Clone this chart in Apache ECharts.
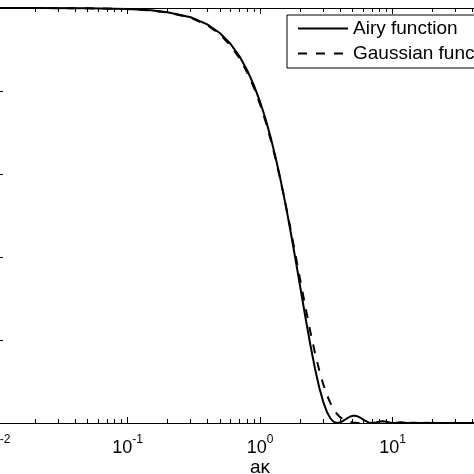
<!DOCTYPE html>
<html>
<head>
<meta charset="utf-8">
<script src="https://cdn.jsdelivr.net/npm/echarts@6/dist/echarts.min.js"></script>
<style>
html,body{margin:0;padding:0;background:#fff;}
#c{width:474px;height:474px;}
</style>
</head>
<body>
<div id="c"></div>
<script>
// a*kappa sample positions
var akappa = [0.01,0.02,0.05,0.1,0.15,0.2,0.3,0.4,0.5,0.6,0.7,0.8,0.9,1.0,1.1,1.2,1.3,1.4,1.5,1.6,1.7,1.8,1.9,2.0,2.2,2.4,2.6,2.8,3.0,3.2,3.4,3.6,3.8,4.0,4.2,4.4,4.6,4.8,5.0,5.2,5.4,5.6,5.8,6.0,6.2,6.4,6.6,6.8,7.0,7.5,8.0,8.5,9.0,9.5,10,10.5,11,11.5,12,12.5,13,13.5,14,14.5,15,16,17,18,20,25,30,40,50,70,100];
var airyValues = [1.0000,1.0000,0.9994,0.9975,0.9944,0.9900,0.9777,0.9607,0.9391,0.9133,0.8836,0.8501,0.8136,0.7746,0.7331,0.6897,0.6449,0.5993,0.5533,0.5075,0.4621,0.4175,0.3743,0.3326,0.2555,0.1879,0.1312,0.0856,0.0511,0.0267,0.0111,0.0028,0.0001,0.0011,0.0044,0.0085,0.0125,0.0155,0.0172,0.0174,0.0164,0.0143,0.0115,0.0085,0.0056,0.0032,0.0014,0.0004,0.0000,0.0013,0.0034,0.0041,0.0030,0.0012,0.0001,0.0002,0.0010,0.0016,0.0014,0.0007,0.0001,0.0000,0.0004,0.0007,0.0007,0.0001,0.0001,0.0004,0.0000,0.0000,0.0000,0.0000,0.0000,0.0000,0.0000];
var gaussValues = [1.0000,0.9999,0.9993,0.9974,0.9941,0.9895,0.9766,0.9588,0.9363,0.9096,0.8790,0.8450,0.8080,0.7686,0.7273,0.6846,0.6410,0.5970,0.5531,0.5098,0.4674,0.4263,0.3867,0.3490,0.2798,0.2196,0.1688,0.1270,0.0936,0.0676,0.0477,0.0330,0.0224,0.0148,0.0096,0.0061,0.0038,0.0023,0.0014,0.0008,0.0005,0.0003,0.0001,0.0001,0.0000,0.0000,0.0000,0.0000,0.0000,0.0000,0.0000,0.0000,0.0000,0.0000,0.0000,0.0000,0.0000,0.0000,0.0000,0.0000,0.0000,0.0000,0.0000,0.0000,0.0000,0.0000,0.0000,0.0000,0.0000,0.0000,0.0000,0.0000,0.0000,0.0000,0.0000];
var seriesNames = ['Airy function','Gaussian function'];
var xMajorTicks = [0.01,0.1,1,10,100];
var xMinorTicks = [0.02,0.03,0.04,0.05,0.06,0.07,0.08,0.09,0.2,0.3,0.4,0.5,0.6,0.7,0.8,0.9,2,3,4,5,6,7,8,9,20,30,40,50,60,70,80,90];
var xAxisName = 'aκ';
var yTicks = [0,0.2,0.4,0.6,0.8,1];

function zip(xs, ys){ return xs.map(function(x,i){ return [x, ys[i]]; }); }

var FONT = '"Liberation Sans", Arial, Helvetica, sans-serif';
var chart = echarts.init(document.getElementById('c'), null, {renderer:'canvas'});

function logAxis(pos, major, showLabel){
  return {
    type:'log', logBase:10, min:0.01, max:100, position:pos,
    axisLine:{show:true, onZero:false, lineStyle:{color:'#000', width:1}},
    axisTick:{show:true, inside:true, length: major?6:4, customValues: major?xMajorTicks:xMinorTicks, lineStyle:{color:'#000', width:1}},
    axisLabel:{show:showLabel, customValues:xMajorTicks, margin:14, fontFamily:FONT,
      formatter:function(v){ var e=Math.round(Math.log10(v)); return '{b|10}{s|'+e+'}'; },
      rich:{
        b:{fontSize:18, lineHeight:20, color:'#000', fontFamily:FONT, verticalAlign:'bottom'},
        s:{fontSize:12, lineHeight:12, color:'#000', fontFamily:FONT, padding:[0,0,11,0], verticalAlign:'bottom'}
      }},
    splitLine:{show:false},
    name: showLabel ? xAxisName : '',
    nameLocation:'middle', nameGap:35, nameMoveOverlap:false,
    nameTextStyle:{fontSize:19, color:'#000', fontFamily:FONT}
  };
}

var option = {
  animation:false,
  backgroundColor:'#fff',
  grid:{left:-5, right:-51, top:8, bottom:51, containLabel:false, outerBoundsMode:'none'},
  legend:{
    orient:'vertical', left:287, top:15,
    padding:[4,40,5,10], itemGap:6, itemWidth:50, itemHeight:16,
    borderColor:'#000', borderWidth:1, backgroundColor:'#fff',
    itemStyle:{opacity:0},
    textStyle:{fontSize:19, color:'#000', fontFamily:FONT},
    data:seriesNames
  },
  xAxis:[ logAxis('bottom', true, true), logAxis('bottom', false, false), logAxis('top', true, false), logAxis('top', false, false) ],
  yAxis:[
    {type:'value', min:0, max:1, interval:0.2, position:'left',
     axisLine:{show:true, lineStyle:{color:'#000'}},
     axisTick:{show:true, inside:true, length:8, lineStyle:{color:'#000'}},
     axisLabel:{show:false}, splitLine:{show:false}},
    {type:'value', min:0, max:1, interval:0.2, position:'right',
     axisLine:{show:true, lineStyle:{color:'#000'}},
     axisTick:{show:true, inside:true, length:8, lineStyle:{color:'#000'}},
     axisLabel:{show:false}, splitLine:{show:false}}
  ],
  series:[
    {name:seriesNames[0], type:'line', xAxisIndex:0, yAxisIndex:0, data:zip(akappa, airyValues),
     showSymbol:false, symbol:'none', smooth:false,
     lineStyle:{color:'#000', width:2, type:'solid'}, itemStyle:{color:'#000'}, z:3},
    {name:seriesNames[1], type:'line', xAxisIndex:0, yAxisIndex:0, data:zip(akappa, gaussValues),
     showSymbol:false, symbol:'none', smooth:false,
     lineStyle:{color:'#000', width:2, type:[9,9]}, itemStyle:{color:'#000'}, z:2}
  ]
};
chart.setOption(option);
</script>
</body>
</html>
